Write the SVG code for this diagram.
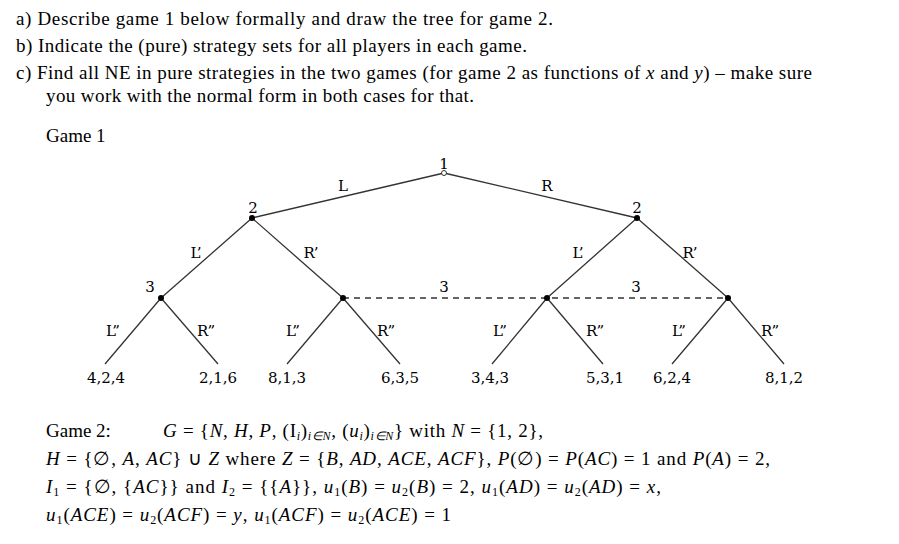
<svg xmlns="http://www.w3.org/2000/svg" width="899" height="544" viewBox="0 0 899 544">
<style>
text{font-family:"Liberation Serif","Times New Roman",serif;font-size:19px;fill:#000}
.t{font-family:"DejaVu Serif","Liberation Serif",serif;font-size:15px}
.m{text-anchor:middle}
.i{font-style:italic}
.s{font-size:12px}
.e{stroke:#333;stroke-width:1.3;fill:none}
</style>
<rect width="899" height="544" fill="#fff"/>
<g id="header">
<text x="16" y="25" textLength="537" lengthAdjust="spacing">a)  Describe game 1 below formally and draw the tree for game 2.</text>
<text x="16" y="52" textLength="511" lengthAdjust="spacing">b)  Indicate the (pure) strategy sets for all players in each game.</text>
<text x="16" y="79" textLength="796" lengthAdjust="spacing">c)  Find all NE in pure strategies in the two games (for game 2 as functions of <tspan class="i">x</tspan> and <tspan class="i">y</tspan>) – make sure</text>
<text x="46" y="102" textLength="428" lengthAdjust="spacing">you work with the normal form in both cases for that.</text>
<text x="46" y="142">Game 1</text>
</g>
<g id="connectors">
<path class="e" d="M444,173 L252,218 M444,173 L637,218 M252,218 L161,298 M252,218 L343,298 M637,218 L547,298 M637,218 L728,298 M161,298 L105,364 M161,298 L218,364 M343,298 L287,364 M343,298 L400,364 M547,298 L492,364 M547,298 L603,364 M728,298 L672,364 M728,298 L784,364"/>
<path class="e" d="M343,298 H728" stroke-dasharray="6,5" stroke-width="1"/>
</g>
<g id="node-root"><circle cx="444" cy="173" r="2.5" fill="#fff" stroke="#333"/><text class="t m" x="444" y="169">1</text></g>
<g id="node-2L"><circle cx="252" cy="218" r="3"/><text class="t m" x="253" y="213">2</text></g>
<g id="node-2R"><circle cx="637" cy="218" r="3"/><text class="t m" x="637" y="213">2</text></g>
<g id="node-3a"><circle cx="161" cy="298" r="3"/><text class="t m" x="150" y="292">3</text></g>
<g id="node-3b"><circle cx="343" cy="298" r="3"/></g>
<g id="node-3c"><circle cx="547" cy="298" r="3"/></g>
<g id="node-3d"><circle cx="728" cy="298" r="3"/></g>
<g id="infoset-labels"><text class="t m" x="444" y="292">3</text><text class="t m" x="636" y="292">3</text></g>
<g id="edge-labels">
<text class="t m" x="343" y="191">L</text><text class="t m" x="547" y="191">R</text>
<text class="t m" x="196" y="258">L’</text><text class="t m" x="311" y="258">R’</text>
<text class="t m" x="578" y="258">L’</text><text class="t m" x="690" y="258">R’</text>
<text class="t m" x="113" y="336">L”</text><text class="t m" x="206" y="336">R”</text>
<text class="t m" x="293" y="336">L”</text><text class="t m" x="386" y="336">R”</text>
<text class="t m" x="500" y="336">L”</text><text class="t m" x="595" y="336">R”</text>
<text class="t m" x="679" y="336">L”</text><text class="t m" x="770" y="336">R”</text>
</g>
<g id="leaves">
<text class="t m" x="106" y="383">4,2,4</text><text class="t m" x="218" y="383">2,1,6</text>
<text class="t m" x="287" y="383">8,1,3</text><text class="t m" x="400" y="383">6,3,5</text>
<text class="t m" x="490" y="383">3,4,3</text><text class="t m" x="605" y="383">5,3,1</text>
<text class="t m" x="672" y="383">6,2,4</text><text class="t m" x="784" y="383">8,1,2</text>
</g>
<g id="game2">
<text x="46" y="437">Game 2:</text>
<text x="163" y="437" textLength="380" lengthAdjust="spacing"><tspan class="i">G</tspan> = {<tspan class="i">N</tspan>, <tspan class="i">H</tspan>, <tspan class="i">P</tspan>, (I<tspan class="s i" dy="3">i</tspan><tspan dy="-3">)</tspan><tspan class="s i" dy="3">i∈N</tspan><tspan dy="-3">, (</tspan><tspan class="i">u</tspan><tspan class="s i" dy="3">i</tspan><tspan dy="-3">)</tspan><tspan class="s i" dy="3">i∈N</tspan><tspan dy="-3">}  with  </tspan><tspan class="i">N</tspan> = {1, 2},</text>
<text x="46" y="465" textLength="724" lengthAdjust="spacing"><tspan class="i">H</tspan> = {∅, <tspan class="i">A</tspan>, <tspan class="i">AC</tspan>} ∪ <tspan class="i">Z</tspan>  where <tspan class="i">Z</tspan> = {<tspan class="i">B</tspan>, <tspan class="i">AD</tspan>, <tspan class="i">ACE</tspan>, <tspan class="i">ACF</tspan>}, <tspan class="i">P</tspan>(∅) = <tspan class="i">P</tspan>(<tspan class="i">AC</tspan>) = 1 and <tspan class="i">P</tspan>(<tspan class="i">A</tspan>) = 2,</text>
<text x="46" y="493" textLength="615" lengthAdjust="spacing"><tspan class="i">I</tspan><tspan class="s" dy="3">1</tspan><tspan dy="-3"> = {∅, {</tspan><tspan class="i">AC</tspan>}} and <tspan class="i">I</tspan><tspan class="s" dy="3">2</tspan><tspan dy="-3"> = {{</tspan><tspan class="i">A</tspan>}}, <tspan class="i">u</tspan><tspan class="s" dy="3">1</tspan><tspan dy="-3">(</tspan><tspan class="i">B</tspan>) = <tspan class="i">u</tspan><tspan class="s" dy="3">2</tspan><tspan dy="-3">(</tspan><tspan class="i">B</tspan>) = 2, <tspan class="i">u</tspan><tspan class="s" dy="3">1</tspan><tspan dy="-3">(</tspan><tspan class="i">AD</tspan>) = <tspan class="i">u</tspan><tspan class="s" dy="3">2</tspan><tspan dy="-3">(</tspan><tspan class="i">AD</tspan>) = <tspan class="i">x</tspan>,</text>
<text x="46" y="521" textLength="405" lengthAdjust="spacing"><tspan class="i">u</tspan><tspan class="s" dy="3">1</tspan><tspan dy="-3">(</tspan><tspan class="i">ACE</tspan>) = <tspan class="i">u</tspan><tspan class="s" dy="3">2</tspan><tspan dy="-3">(</tspan><tspan class="i">ACF</tspan>) = <tspan class="i">y</tspan>, <tspan class="i">u</tspan><tspan class="s" dy="3">1</tspan><tspan dy="-3">(</tspan><tspan class="i">ACF</tspan>) = <tspan class="i">u</tspan><tspan class="s" dy="3">2</tspan><tspan dy="-3">(</tspan><tspan class="i">ACE</tspan>) = 1</text>
</g>
</svg>
